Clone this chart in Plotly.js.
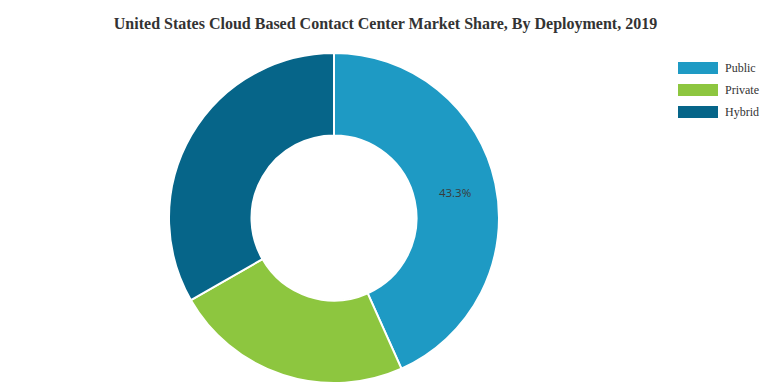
<!DOCTYPE html>
<html>
<head>
<meta charset="utf-8">
<script src="https://cdn.plot.ly/plotly-3.0.1.min.js"></script>
<style>html,body{margin:0;padding:0;background:#fff;}#chart{width:771px;height:385px;}</style>
</head>
<body>
<div id="chart"></div>
<script>
var labels = ['Public', 'Private', 'Hybrid'];
var values = [43.3, 23.4, 33.3];
var colors = ['#1e9ac4', '#8dc63f', '#066589'];
var showLabel = [true, false, false];

var trace = {
  type: 'pie',
  labels: labels,
  values: values,
  sort: false,
  direction: 'clockwise',
  rotation: 0,
  hole: 0.5,
  marker: {colors: colors, line: {color: '#ffffff', width: 2}},
  texttemplate: showLabel.map(function(s){ return s ? '%{percent}' : ''; }),
  textinfo: 'percent',
  textposition: 'inside',
  insidetextorientation: 'horizontal',
  textfont: {family: 'Open Sans, sans-serif', size: 11.5, color: '#3a3a3a'},
  showlegend: false,
  domain: {x: [169/771, 499/771], y: [2/385, 332/385]},
  hoverinfo: 'label+percent'
};

var shapes = [], annotations = [];
labels.forEach(function(l, i){
  var y0 = 62 + i*22;
  shapes.push({type: 'rect', xref: 'paper', yref: 'paper',
    x0: 678/771, x1: 718/771, y0: 1 - (y0+12)/385, y1: 1 - y0/385,
    fillcolor: colors[i], line: {width: 0}});
  annotations.push({xref: 'paper', yref: 'paper', x: 723/771, y: 1 - (y0+6)/385,
    xanchor: 'left', yanchor: 'middle', showarrow: false, text: l,
    font: {family: 'Liberation Serif, serif', size: 12, color: '#333333'}});
});

var layout = {
  width: 771, height: 385,
  margin: {l: 0, r: 0, t: 0, b: 0},
  paper_bgcolor: '#ffffff',
  title: {text: '<b>United States Cloud Based Contact Center Market Share, By Deployment, 2019</b>',
    font: {family: 'Liberation Serif, serif', size: 16, color: '#333333'},
    x: 0.5, xanchor: 'center', y: 1 - 23/385, yanchor: 'middle', xref: 'paper', yref: 'paper'},
  shapes: shapes,
  annotations: annotations,
  showlegend: false
};

Plotly.newPlot('chart', [trace], layout, {displayModeBar: false, staticPlot: true});
</script>
</body>
</html>
